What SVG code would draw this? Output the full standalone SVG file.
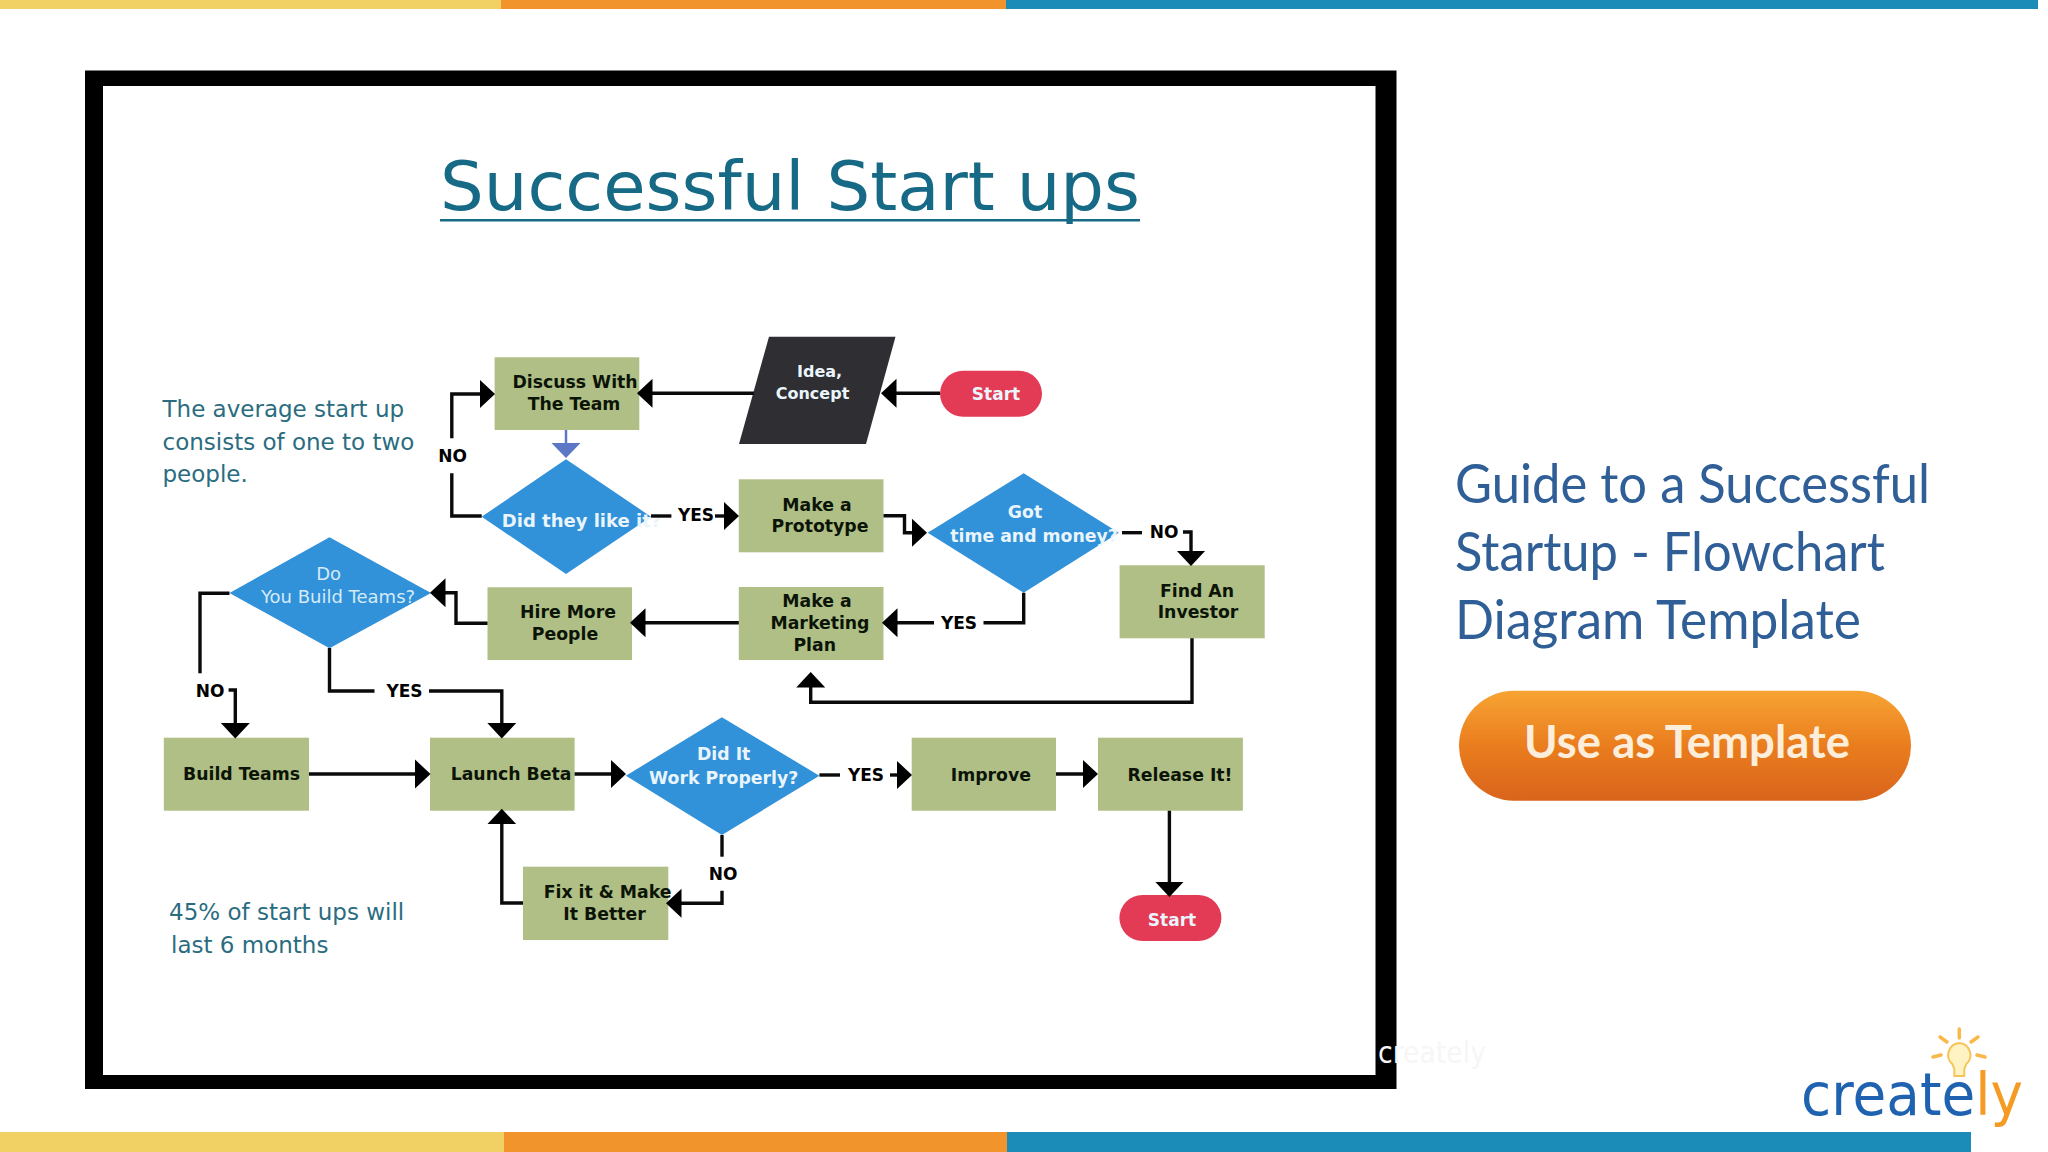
<svg xmlns="http://www.w3.org/2000/svg" width="2048" height="1152" viewBox="0 0 2048 1152">
<style>
.box{fill:#afbf85}
.dia{fill:#3191d9}
.term{fill:#e33a55}
.t{font-family:"DejaVu Sans",sans-serif;font-weight:bold;font-size:17.300px;text-anchor:middle;fill:#0c1408}
.w{fill:#eaf5fb}
.thin{font-weight:normal;font-size:18px;fill:#d4ebf7}
.lab{font-family:"DejaVu Sans",sans-serif;font-weight:bold;font-size:17px;text-anchor:middle;fill:#000}
.note{font-family:"DejaVu Sans",sans-serif;font-size:23px;fill:#2a6c80}
.c{fill:none;stroke:#0a0a0a;stroke-width:3.400}
.a{marker-end:url(#h)}
.head{font-family:Lato,"Open Sans",sans-serif;font-size:54px;fill:#2f5f96}
</style>
<defs>
<marker id="h" markerUnits="userSpaceOnUse" markerWidth="16" markerHeight="30" refX="10.500" refY="14.500" orient="auto" viewBox="0 0 16 29"><path d="M0,0 L15.500,14.500 L0,29 Z" fill="#000"/></marker>
<marker id="hb" markerUnits="userSpaceOnUse" markerWidth="16" markerHeight="30" refX="10" refY="14.500" orient="auto" viewBox="0 0 16 29"><path d="M0,0 L15,14.500 L0,29 Z" fill="#5b78c6"/></marker>
<linearGradient id="btn" x1="0" y1="0" x2="0" y2="1"><stop offset="0" stop-color="#f7a433"/><stop offset=".5" stop-color="#ea7d1e"/><stop offset="1" stop-color="#d9641c"/></linearGradient>
</defs>
<rect width="2048" height="1152" fill="#fff"/>
<g id="bars">
<rect x="0" y="0" width="501" height="9" fill="#f1d163"/><rect x="501" y="0" width="505" height="9" fill="#f0942b"/><rect x="1006" y="0" width="1032" height="9" fill="#1b8bb7"/>
<rect x="0" y="1132" width="504" height="20" fill="#f1d163"/><rect x="504" y="1132" width="503" height="20" fill="#f0942b"/><rect x="1007" y="1132" width="964" height="20" fill="#1b8bb7"/>
</g>
<g id="frame"><rect x="85" y="70.500" width="1311.500" height="1018.500" fill="#000"/><rect x="103" y="86" width="1272.500" height="989" fill="#fff"/></g>
<text x="1378" y="1063" font-family="'DejaVu Sans',sans-serif" font-size="30" fill="#f6f6f6" textLength="108" lengthAdjust="spacingAndGlyphs">creately</text>
<text id="title" x="790" y="210" font-family="'DejaVu Sans',sans-serif" font-size="67" text-anchor="middle" fill="#176a86" textLength="700" lengthAdjust="spacingAndGlyphs">Successful Start ups</text>
<rect x="440" y="219" width="700" height="2.500" fill="#176a86"/>
<text class="note"><tspan x="162.500" y="417">The average start up</tspan><tspan x="162.500" y="450">consists of one to two</tspan><tspan x="162.500" y="482">people.</tspan></text>
<text class="note"><tspan x="169" y="920">45% of start ups will</tspan><tspan x="171" y="953">last 6 months</tspan></text>
<g id="n-discuss"><rect class="box" x="494.600" y="357.300" width="144.700" height="72.700"/><text class="t"><tspan x="575" y="388">Discuss With</tspan><tspan x="574" y="410">The Team</tspan></text></g>
<g id="n-idea"><polygon points="769,336.700 895.500,336.700 866,444 739,444" fill="#2e2e33"/><text class="t w" style="font-size:16px"><tspan x="819.600" y="376.700">Idea,</tspan><tspan x="812.500" y="399">Concept</tspan></text></g>
<g id="n-start"><rect class="term" x="940" y="370.700" width="102" height="46" rx="23"/><text class="t w" style="font-size:17px" x="996" y="400">Start</text></g>
<g id="n-like"><polygon class="dia" points="566,459.300 651,516.700 566,574 481.700,516.700"/><text class="t w" x="501.800" y="526.700" style="text-anchor:start;font-size:18px">Did they like it?</text></g>
<g id="n-proto"><rect class="box" x="738.800" y="479.300" width="144.700" height="73"/><text class="t"><tspan x="817" y="510.700">Make a</tspan><tspan x="820" y="532.300">Prototype</tspan></text></g>
<g id="n-got"><polygon class="dia" points="1023.700,473.300 1118.800,532.700 1023.700,592.700 927.700,532.700"/><text class="t w"><tspan x="1025" y="517.700">Got</tspan><tspan x="1034" y="542.300">time and  money?</tspan></text></g>
<g id="n-investor"><rect class="box" x="1119.600" y="565.300" width="145.100" height="73"/><text class="t"><tspan x="1197" y="596.700">Find An</tspan><tspan x="1198" y="618.300">Investor</tspan></text></g>
<g id="n-market"><rect class="box" x="738.800" y="587" width="144.700" height="73"/><text class="t"><tspan x="817" y="606.700">Make a</tspan><tspan x="820" y="629">Marketing</tspan><tspan x="814.700" y="651">Plan</tspan></text></g>
<g id="n-hire"><rect class="box" x="487.500" y="587.300" width="144.500" height="72.700"/><text class="t"><tspan x="568" y="618">Hire More</tspan><tspan x="565" y="640">People</tspan></text></g>
<g id="n-teams"><polygon class="dia" points="329.500,537.300 431,593 329.500,648.300 229.500,593"/><text class="t thin"><tspan x="328.600" y="580">Do</tspan><tspan x="338" y="602.700">You Build  Teams?</tspan></text></g>
<g id="n-build"><rect class="box" x="163.800" y="737.700" width="145.200" height="73"/><text class="t" x="241.500" y="780">Build Teams</text></g>
<g id="n-beta"><rect class="box" x="430" y="737.700" width="144.600" height="73"/><text class="t" x="511" y="780">Launch Beta</text></g>
<g id="n-work"><polygon class="dia" points="721.900,717.300 819.400,775.700 721.900,835 625.900,775.700"/><text class="t w"><tspan x="723.700" y="760">Did It</tspan><tspan x="723.700" y="784">Work Properly?</tspan></text></g>
<g id="n-improve"><rect class="box" x="911.700" y="737.700" width="144.300" height="73"/><text class="t" x="990.800" y="780.700">Improve</text></g>
<g id="n-release"><rect class="box" x="1098" y="737.700" width="144.900" height="73"/><text class="t" x="1180" y="780.700">Release It!</text></g>
<g id="n-fix"><rect class="box" x="523" y="866.700" width="145.300" height="73.300"/><text class="t"><tspan x="607.600" y="898">Fix it &amp; Make</tspan><tspan x="604.500" y="920">It Better</tspan></text></g>
<g id="n-end"><rect class="term" x="1119.400" y="895" width="102" height="46" rx="23"/><text class="t w" style="font-size:17px" x="1172" y="925.700">Start</text></g>
<g id="connectors">
<path class="c a" d="M940,393.300H886"/>
<path class="c a" d="M754,393.300H642"/>
<path d="M566,430V453" fill="none" stroke="#5b78c6" stroke-width="2.500" marker-end="url(#hb)"/>
<path class="c" d="M481.700,516H451.800V473.300"/>
<path class="c a" d="M451.800,438.300V394H490"/>
<text class="lab" x="452.700" y="461.700">NO</text>
<path class="c" d="M651,516H671.400"/>
<text class="lab" x="696" y="520.700">YES</text>
<path class="c a" d="M715,516H734"/>
<path class="c a" d="M883.500,515.700H904.500V532.700H922"/>
<path class="c" d="M1122,532.700H1142"/>
<text class="lab" x="1164" y="538">NO</text>
<path class="c a" d="M1183,532H1191V561"/>
<path class="c" d="M1023.700,592.700V622.700H983.500"/>
<text class="lab" x="959" y="629">YES</text>
<path class="c a" d="M934,622.700H887"/>
<path class="c a" d="M1192,638.300V702.300H810.700V677"/>
<path class="c a" d="M738.800,622.700H635"/>
<path class="c a" d="M487.500,623.300H456V592.700H435"/>
<path class="c" d="M229.500,593.300H200V673.300"/>
<text class="lab" x="210" y="696.700">NO</text>
<path class="c a" d="M228.600,690H235.300V733.500"/>
<path class="c" d="M329.500,648V691H374.500"/>
<text class="lab" x="404.500" y="696.700">YES</text>
<path class="c a" d="M429,691H501.800V733.500"/>
<path class="c a" d="M309,774H425.500"/>
<path class="c a" d="M574.600,774H621"/>
<path class="c" d="M819.400,775H840"/>
<text class="lab" x="866" y="780.700">YES</text>
<path class="c a" d="M890,775H907"/>
<path class="c a" d="M1056,774H1093"/>
<path class="c a" d="M1169.400,810.700V892"/>
<path class="c" d="M722,835V856.700"/>
<text class="lab" x="723" y="880">NO</text>
<path class="c a" d="M722,890.700V903.300H671"/>
<path class="c a" d="M523,903H501.800V813.700"/>
</g>
<text class="head"><tspan x="1455" y="503" textLength="475" lengthAdjust="spacingAndGlyphs">Guide to a Successful</tspan><tspan x="1455" y="571" textLength="430" lengthAdjust="spacingAndGlyphs">Startup - Flowchart</tspan><tspan x="1455" y="639" textLength="406" lengthAdjust="spacingAndGlyphs">Diagram Template</tspan></text>
<g id="button"><rect x="1459" y="690.700" width="452" height="110" rx="55" fill="url(#btn)"/><text x="1524" y="758" font-family="Lato,'Open Sans',sans-serif" font-weight="bold" font-size="45" fill="#fdeedb" textLength="326" lengthAdjust="spacingAndGlyphs">Use as Template</text></g>
<g id="logo">
<path d="M1959.300,1043a12,12 0 0 1 7,21l-2,5v7h-10v-7l-2,-5a12,12 0 0 1 7,-21z" fill="#fff3c4" stroke="#f5c55a" stroke-width="2"/>
<path d="M1959.300,1029v9M1940,1037l7,5M1978,1037l-7,5M1933,1057l8,-2M1985,1057l-8,-2" stroke="#f8b94a" stroke-width="3.500" stroke-linecap="round" fill="none"/>
<text x="1801" y="1115" font-family="'DejaVu Sans',sans-serif" font-size="58" font-weight="500" fill="#1f63b0" textLength="222" lengthAdjust="spacingAndGlyphs">create<tspan fill="#f59b24">ly</tspan></text>
</g>
</svg>
